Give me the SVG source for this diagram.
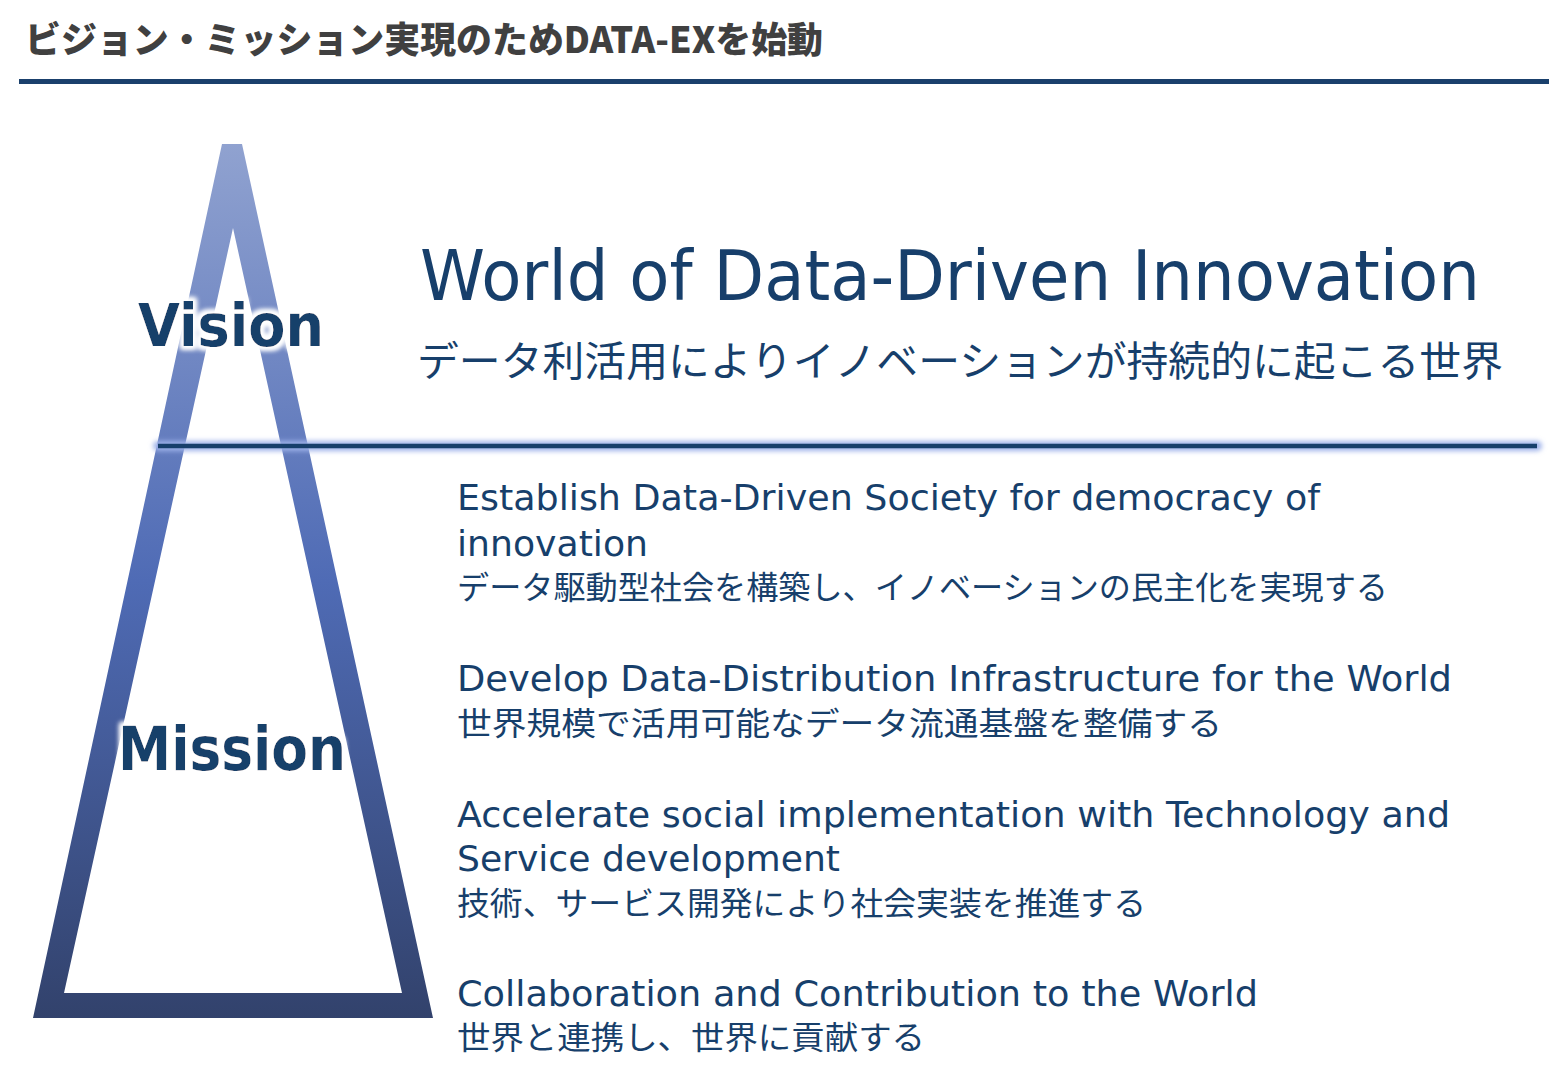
<svg xmlns="http://www.w3.org/2000/svg" width="1556" height="1083" viewBox="0 0 1556 1083">
<style>
.title{font-family:"Noto Sans CJK JP","Liberation Sans",sans-serif;font-weight:900;font-size:36px;fill:#404040}
.lbl{font-family:"DejaVu Sans","Liberation Sans",sans-serif;font-weight:700;fill:#173f6b}
.en{font-family:"DejaVu Sans","Liberation Sans",sans-serif;fill:#173f6b}
.jp{font-family:"Noto Sans CJK JP","Liberation Sans",sans-serif;fill:#173f6b}
</style>
<defs>
<linearGradient id="tri" x1="0" y1="144" x2="0" y2="1018" gradientUnits="userSpaceOnUse">
<stop offset="0" stop-color="#90a2d0"/>
<stop offset="0.5" stop-color="#4f6bb5"/>
<stop offset="1" stop-color="#32426c"/>
</linearGradient>
<filter id="glowW" x="-10%" y="-30%" width="120%" height="160%">
<feMorphology in="SourceAlpha" operator="dilate" radius="3" result="d"/>
<feGaussianBlur in="d" stdDeviation="2.5" result="b"/>
<feFlood flood-color="#ffffff"/>
<feComposite in2="b" operator="in" result="g"/>
<feMerge><feMergeNode in="g"/><feMergeNode in="g"/><feMergeNode in="SourceGraphic"/></feMerge>
</filter>
<filter id="blurB" filterUnits="userSpaceOnUse" x="130" y="425" width="1430" height="42">
<feGaussianBlur stdDeviation="2.5"/>
</filter>
</defs>
<g id="header">
<text class="title" x="25" y="53" textLength="798" lengthAdjust="spacingAndGlyphs">ビジョン・ミッション実現のためDATA-EXを始動</text>
<rect x="19" y="79" width="1530" height="5" fill="#1a406c"/>
</g>
<g id="pyramid">
<path fill="url(#tri)" fill-rule="evenodd" d="M222 144 L242 144 L433 1018 L33 1018 Z M233 228 L64 993 L402 993 Z"/>
</g>
<g id="divider">
<line x1="158" y1="446" x2="1537" y2="446" stroke="#9fb2ea" stroke-width="10" stroke-linecap="round" filter="url(#blurB)"/>
<line x1="158" y1="446" x2="1537" y2="446" stroke="#173f6b" stroke-width="4.5"/>
</g>
<g id="vision-label">
<text class="lbl" x="138" y="346" font-size="59" textLength="186" lengthAdjust="spacingAndGlyphs" filter="url(#glowW)">Vision</text>
</g>
<g id="mission-label">
<text class="lbl" x="118" y="770" font-size="61" textLength="228" lengthAdjust="spacingAndGlyphs" filter="url(#glowW)">Mission</text>
</g>
<g id="vision">
<text class="en" x="420" y="300" font-size="70" textLength="1060" lengthAdjust="spacingAndGlyphs">World of Data-Driven Innovation</text>
<text class="jp" x="417" y="376" font-size="41" textLength="1086" lengthAdjust="spacingAndGlyphs">データ利活用によりイノベーションが持続的に起こる世界</text>
</g>
<g id="mission1">
<text class="en" x="457" y="510" font-size="36" textLength="863" lengthAdjust="spacingAndGlyphs">Establish Data-Driven Society for democracy of</text>
<text class="en" x="457" y="556" font-size="36" textLength="191" lengthAdjust="spacingAndGlyphs">innovation</text>
<text class="jp" x="457" y="599" font-size="32" textLength="931" lengthAdjust="spacingAndGlyphs">データ駆動型社会を構築し、イノベーションの民主化を実現する</text>
</g>
<g id="mission2">
<text class="en" x="457" y="691" font-size="36" textLength="995" lengthAdjust="spacingAndGlyphs">Develop Data-Distribution Infrastructure for the World</text>
<text class="jp" x="457" y="735" font-size="32" textLength="765" lengthAdjust="spacingAndGlyphs">世界規模で活用可能なデータ流通基盤を整備する</text>
</g>
<g id="mission3">
<text class="en" x="457" y="827" font-size="36" textLength="993" lengthAdjust="spacingAndGlyphs">Accelerate social implementation with Technology and</text>
<text class="en" x="457" y="871" font-size="36" textLength="383" lengthAdjust="spacingAndGlyphs">Service development</text>
<text class="jp" x="457" y="915" font-size="32" textLength="689" lengthAdjust="spacingAndGlyphs">技術、サービス開発により社会実装を推進する</text>
</g>
<g id="mission4">
<text class="en" x="457" y="1006" font-size="36" textLength="801" lengthAdjust="spacingAndGlyphs">Collaboration and Contribution to the World</text>
<text class="jp" x="457" y="1049" font-size="32" textLength="468" lengthAdjust="spacingAndGlyphs">世界と連携し、世界に貢献する</text>
</g>
</svg>
